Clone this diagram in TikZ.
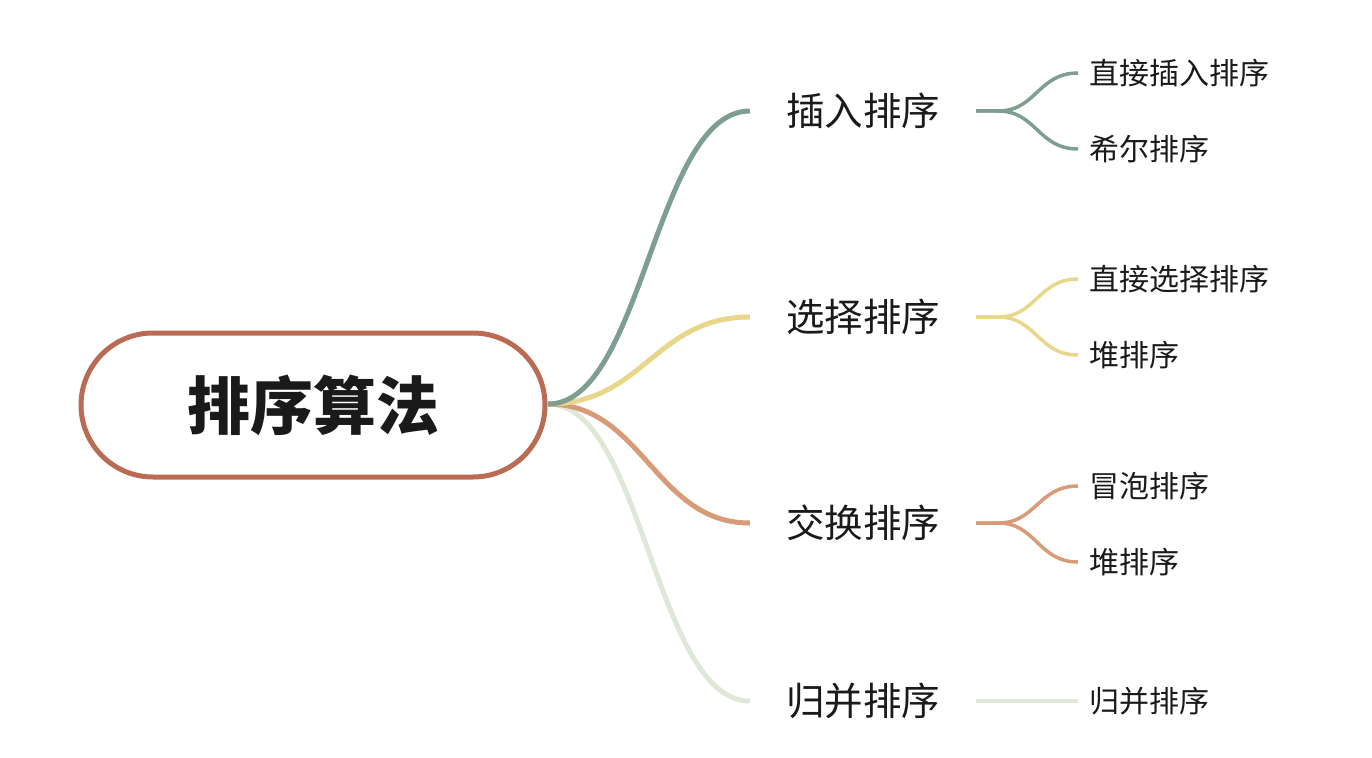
\documentclass[tikz,border=0pt]{standalone}
\usepackage{fontspec}
\newfontfamily\cjk{Noto Sans CJK SC}
\definecolor{rootc}{HTML}{B96C53}
\definecolor{cA}{HTML}{7E9E8F}
\definecolor{cB}{HTML}{E8D68B}
\definecolor{cC}{HTML}{D89B77}
\definecolor{cD}{HTML}{DFE8D6}
\definecolor{txt}{HTML}{1A1A1A}
\tikzset{
  rootbox/.style={draw=rootc, line width=5pt, fill=white, rounded corners=72pt,
    minimum width=464pt, minimum height=144pt, text=txt,
    font=\cjk\bfseries\fontsize{63}{63}\selectfont},
  lvone/.style={inner xsep=36pt, inner ysep=4pt, text=txt,
    font=\cjk\fontsize{38.5}{38.5}\selectfont},
  lvtwo/.style={anchor=west, inner xsep=11pt, inner ysep=3pt, text=txt,
    font=\cjk\fontsize{30}{30}\selectfont},
  mainlink/.style={line width=5pt},
  sublink/.style={line width=3.5pt},
}
\begin{document}
\begin{tikzpicture}[x=1pt,y=-1pt]
\useasboundingbox (0,0) rectangle (1372,757);
\node[rootbox] (root) at (313,405) {排序算法\hspace{9pt}};
\coordinate (hub) at (548,404);
% level one
\node[lvone] (a) at (863,111) {插入排序};
\node[lvone] (b) at (863,317) {选择排序};
\node[lvone] (c) at (863,523) {交换排序};
\node[lvone] (d) at (863,701) {归并排序};
% level two
\node[lvtwo] (a1) at (1078,73) {直接插入排序};
\node[lvtwo] (a2) at (1078,149) {希尔排序};
\node[lvtwo] (b1) at (1078,279) {直接选择排序};
\node[lvtwo] (b2) at (1078,355) {堆排序};
\node[lvtwo] (c1) at (1078,486) {冒泡排序};
\node[lvtwo] (c2) at (1078,562) {堆排序};
\node[lvtwo] (d1) at (1078,701) {归并排序};
% main links
\draw[mainlink, cD] (hub) .. controls +(95,0) and +(-95,0) .. (d.west);
\draw[mainlink, cC] (hub) .. controls +(95,0) and +(-95,0) .. (c.west);
\draw[mainlink, cB] (hub) .. controls +(95,0) and +(-95,0) .. (b.west);
\draw[mainlink, cA] (hub) .. controls +(95,0) and +(-95,0) .. (a.west);
% sub links
\foreach \p/\q/\r/\col in {a/a1/a2/cA, b/b1/b2/cB, c/c1/c2/cC}{
  \draw[sublink, \col] (\p.east) -- ++(22,0) .. controls +(38,0) and +(-40,0) .. (\q.west);
  \draw[sublink, \col] (\p.east) -- ++(22,0) .. controls +(38,0) and +(-40,0) .. (\r.west);
}
\draw[sublink, cD] (d.east) -- (d1.west);
\end{tikzpicture}
\end{document}
